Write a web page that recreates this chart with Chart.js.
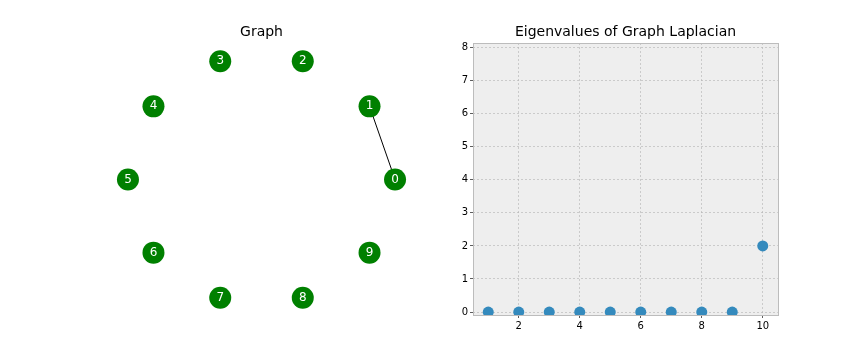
<!DOCTYPE html>
<html><head><meta charset="utf-8">
<script src="https://cdn.jsdelivr.net/npm/chart.js@4/dist/chart.umd.min.js"></script>
<style>
html,body{margin:0;padding:0;background:#fff;}
#wrap{position:relative;width:864px;height:360px;}
canvas{position:absolute;top:0;}
</style></head>
<body>
<div id="wrap">
<canvas id="g" width="432" height="360" style="left:0;width:432px;height:360px"></canvas>
<canvas id="e" width="432" height="360" style="left:432px;width:432px;height:360px"></canvas>
</div>
<script>
// ---- data ----
const nodeLabels = ['0','1','2','3','4','5','6','7','8','9'];
const edges = [[0,1]];
const eigIndex = [1,2,3,4,5,6,7,8,9,10];
const eigValues = [0,0,0,0,0,0,0,0,0,2];
const xTicks = [2,4,6,8,10];
const yTicks = [0,1,2,3,4,5,6,7,8];

const FONT = "'DejaVu Sans', sans-serif";
Chart.defaults.font.family = FONT;
Chart.defaults.animation = false;

// circular layout
const pos = nodeLabels.map((_, i) => {
  const a = 2 * Math.PI * i / nodeLabels.length;
  return {x: Math.cos(a), y: Math.sin(a)};
});

const titlePlugin = {
  id: 'ttl',
  afterDraw(chart, args, opts) {
    const ctx = chart.ctx, ca = chart.chartArea;
    ctx.save();
    ctx.fillStyle = '#000';
    ctx.font = '14px ' + FONT;
    ctx.textAlign = 'center';
    ctx.textBaseline = 'middle';
    ctx.fillText(opts.text, (ca.left + ca.right) / 2, ca.top - 10.5);
    ctx.restore();
  }
};

const nodeLabelPlugin = {
  id: 'nlab',
  afterDatasetsDraw(chart) {
    const meta = chart.getDatasetMeta(chart.data.datasets.length - 1);
    const ctx = chart.ctx;
    ctx.save();
    ctx.fillStyle = '#fff';
    ctx.font = '12px ' + FONT;
    ctx.textAlign = 'center';
    ctx.textBaseline = 'middle';
    meta.data.forEach((pt, i) => ctx.fillText(nodeLabels[i], pt.x, pt.y));
    ctx.restore();
  }
};

const edgeDatasets = edges.map(([a, b]) => ({
  type: 'line',
  data: [pos[a], pos[b]],
  showLine: true,
  borderColor: '#000',
  borderWidth: 1,
  pointRadius: 0,
  order: 2
}));

new Chart(document.getElementById('g'), {
  type: 'scatter',
  data: {
    datasets: [...edgeDatasets, {
      data: pos,
      backgroundColor: '#008000',
      borderColor: '#008000',
      borderWidth: 0,
      pointRadius: 11,
      order: 1
    }]
  },
  options: {
    responsive: false,
    layout: {padding: {left: 109, right: 18, top: 43, bottom: 44}},
    scales: {
      x: {display: false, min: -1.142, max: 1.142},
      y: {display: false, min: -1.097, max: 1.097}
    },
    plugins: {legend: {display: false}, tooltip: {enabled: false}, ttl: {text: 'Graph'}}
  },
  plugins: [titlePlugin, nodeLabelPlugin]
});

const bgPlugin = {
  id: 'bg',
  beforeDraw(chart) {
    const ctx = chart.ctx, ca = chart.chartArea;
    ctx.save();
    ctx.fillStyle = '#eeeeee';
    ctx.fillRect(ca.left, ca.top, ca.right - ca.left, ca.bottom - ca.top);
    ctx.restore();
  },
  afterDatasetsDraw(chart) {
    const ctx = chart.ctx, ca = chart.chartArea;
    ctx.save();
    ctx.strokeStyle = '#bcbcbc';
    ctx.lineWidth = 1;
    ctx.strokeRect(ca.left + 0.5, ca.top + 0.5, ca.right - ca.left, ca.bottom - ca.top);
    ctx.restore();
  }
};

const gridOpts = {
  color: '#b2b2b2',
  lineWidth: 0.6,
  tickColor: '#333',
  tickLength: 3,
  tickWidth: 0.8,
  tickBorderDash: [],
  drawOnChartArea: true
};

new Chart(document.getElementById('e'), {
  type: 'scatter',
  data: {
    datasets: [{
      data: eigIndex.map((x, i) => ({x, y: eigValues[i]})),
      backgroundColor: '#348ABD',
      borderColor: '#348ABD',
      borderWidth: 0,
      pointRadius: 5.5,
      clip: 0
    }]
  },
  options: {
    responsive: false,
    layout: {padding: {left: 21, right: 86, top: 43, bottom: 0}},
    scales: {
      x: {
        type: 'linear', min: 0.5, max: 10.5,
        afterBuildTicks: s => { s.ticks = xTicks.map(v => ({value: v})); },
        afterFit: s => { s.height = 45; },
        grid: gridOpts,
        border: {display: false, dash: [2, 2]},
        ticks: {color: '#000', font: {size: 10}, padding: 2, maxRotation: 0}
      },
      y: {
        type: 'linear', min: -0.09, max: 8.14,
        afterBuildTicks: s => { s.ticks = yTicks.map(v => ({value: v})); },
        afterFit: s => { s.width = 20; },
        grid: gridOpts,
        border: {display: false, dash: [2, 2]},
        ticks: {color: '#000', font: {size: 10}, padding: 2}
      }
    },
    plugins: {legend: {display: false}, tooltip: {enabled: false}, ttl: {text: 'Eigenvalues of Graph Laplacian'}}
  },
  plugins: [bgPlugin, titlePlugin]
});
</script>
</body></html>
